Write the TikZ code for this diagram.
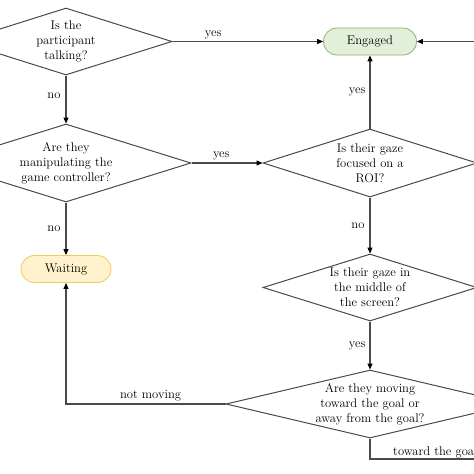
\documentclass[tikz,border=0pt]{standalone}
\usetikzlibrary{shapes.geometric,arrows.meta}
\definecolor{engfill}{HTML}{E2EFD9}
\definecolor{engdraw}{HTML}{8DB373}
\definecolor{waitfill}{HTML}{FFF2CC}
\definecolor{waitdraw}{HTML}{F2CC5A}
\definecolor{linegray}{HTML}{4A4A4A}
\begin{document}
\begin{tikzpicture}[x=1pt,y=-1pt,
  every node/.style={font=\fontsize{12.6}{15}\selectfont},
  dia/.style={draw=linegray, line width=1pt, shape=diamond, inner sep=0pt},
  dtext/.style={align=center, inner sep=0pt},
  term/.style={rectangle, rounded corners=13.5pt, line width=0.8pt, minimum height=27pt, inner sep=0pt},
  conn/.style={draw=linegray, line width=1.1pt},
  arr/.style={conn, -{Triangle[length=6pt,width=5pt,color=black]}},
  lbl/.style={inner sep=2pt, font=\fontsize{12.6}{15}\selectfont}]
\useasboundingbox (0,0) rectangle (474,474);
\clip (0,0) rectangle (474,474);
\fill[white] (0,0) rectangle (474,474);

% terminals
\node[term, draw=engdraw, fill=engfill, minimum width=93pt] (eng) at (370,41.5) {Engaged};
\node[term, draw=waitdraw, fill=waitfill, minimum width=90pt] (wait) at (66,269) {Waiting};

% decisions
\node[dia, minimum width=212pt, minimum height=67pt] (d1) at (66,41.5) {};
\node[dtext] at (d1.center) {Is the\\participant\\talking?};
\node[dia, minimum width=250pt, minimum height=78pt] (d2) at (66,163) {};
\node[dtext] at (d2.center) {Are they\\manipulating the\\game controller?};
\node[dia, minimum width=214pt, minimum height=68pt] (d3) at (370,163) {};
\node[dtext] at (d3.center) {Is their gaze\\focused on a\\ROI?};
\node[dia, minimum width=214pt, minimum height=67pt] (d4) at (370,287.5) {};
\node[dtext] at (d4.center) {Is their gaze in\\the middle of\\the screen?};
\node[dia, minimum width=288pt, minimum height=68pt] (d5) at (370,404) {};
\node[dtext] at (d5.center) {Are they moving\\toward the goal or\\away from the goal?};

% free ends
\coordinate (engR) at (520,41.5);
\coordinate (tgR) at (520,459);

% connectors
\draw[arr] (d1.east) -- node[lbl, above, pos=0.27] {yes} (eng.west);
\draw[arr] (engR) -- (eng.east);
\draw[arr] (d1.south) -- node[lbl, left, inner sep=5pt, pos=0.42] {no} (d2.north);
\draw[arr] (d2.east) -- node[lbl, above, pos=0.42] {yes} (d3.west);
\draw[arr] (d2.south) -- node[lbl, left, inner sep=5pt] {no} (wait.north);
\draw[arr] (d3.north) -- node[lbl, left, inner sep=4pt] {yes} (eng.south);
\draw[arr] (d3.south) -- node[lbl, left, inner sep=5pt] {no} (d4.north);
\draw[arr] (d4.south) -- node[lbl, left, inner sep=4pt] {yes} (d5.north);
\draw[arr] (d5.west) -- node[lbl, above, pos=0.47] {not moving} (d5.west -| wait.south) -- (wait.south);
\draw[conn] (d5.south) |- (tgR);
\node[lbl, anchor=base west, inner sep=0pt] at (393,455) {toward the goal};
\end{tikzpicture}
\end{document}
